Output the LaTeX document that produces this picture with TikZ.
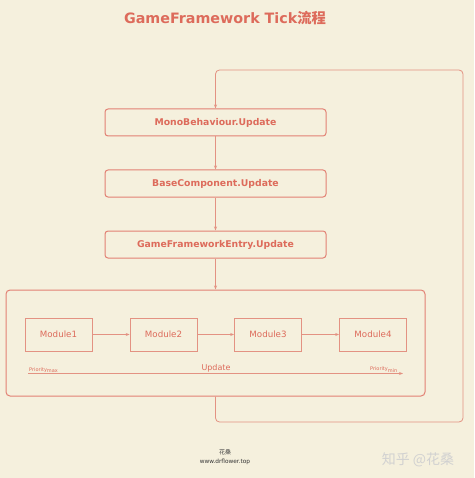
\documentclass[tikz,border=0pt]{standalone}
\usepackage{fontspec}
\setmainfont{DejaVu Sans}
\newfontfamily\cjk{Noto Sans CJK SC}
\usetikzlibrary{positioning, arrows.meta}
\definecolor{paper}{HTML}{F5F0DD}
\definecolor{salmon}{HTML}{DD6B5B}
\definecolor{edgeline}{HTML}{E39282}
\tikzset{
line/.style={draw=edgeline, line width=0.8pt}, % connector lines
flow/.style={line, -{Stealth[length=4pt,width=3pt]}}, % directed connectors
updatebox/.style={draw=salmon!85, line width=1pt, rounded corners=3pt, minimum width=221pt, minimum height=27pt, text=salmon, font=\bfseries\fontsize{9.3}{11}\selectfont},
modulebox/.style={draw=edgeline, line width=0.7pt, minimum width=67pt, minimum height=33pt, text=salmon, font=\fontsize{8.7}{10}\selectfont},
}

\begin{document}
\begin{tikzpicture}[x=1pt, y=-1pt]
\fill[paper] (0,0) rectangle (474,478);
\useasboundingbox (0,0) rectangle (474,478);

\node[text=salmon, font=\bfseries\fontsize{14.3}{16}\selectfont] at (225,18) (title) {GameFramework Tick{\cjk 流程}};

\node[updatebox] at (215.5,122.5) (mono) {MonoBehaviour.Update};
\node[updatebox] at (215.5,183.5) (base) {BaseComponent.Update};
\node[updatebox] at (215.5,244.5) (entry) {GameFrameworkEntry.Update};

\node[draw=salmon!85, line width=1pt, rounded corners=4pt, minimum width=419pt, minimum height=106pt] at (215.5,343) (frame) {};

\node[modulebox] at (58.5,334.5) (m1) {Module1};
\node[modulebox] at (163.5,334.5) (m2) {Module2};
\node[modulebox] at (268,334.5) (m3) {Module3};
\node[modulebox] at (373,334.5) (m4) {Module4};

\draw[flow] (mono) -- (base);
\draw[flow] (base) -- (entry);
\draw[flow] (entry) -- (frame);
\draw[flow] (m1) -- (m2);
\draw[flow] (m2) -- (m3);
\draw[flow] (m3) -- (m4);

% priority axis
\coordinate (pstart) at (28,373.5);
\coordinate (pend) at (403,373.5);
\draw[flow] (pstart) -- (pend);
\node[anchor=south west, inner sep=1pt, text=salmon, font=\fontsize{5}{6}\selectfont] at (pstart) (pmax) {Priority\textsubscript{max}};
\node[anchor=south east, inner sep=1pt, text=salmon, font=\fontsize{5}{6}\selectfont] at ([xshift=-4pt]pend) (pmin) {Priority\textsubscript{min}};
\node[text=salmon, font=\fontsize{8}{9}\selectfont] at (216,368) (upd) {Update};

% loop back to the top
\coordinate (br) at (463,422);
\coordinate (tr) at (463,70);
\draw[flow, rounded corners=4pt] (frame.south) |- (br) -- (tr) -| (mono.north);

\node[text=black!75, font=\cjk\fontsize{6}{7}\selectfont] at (225,452) (author) {花桑};
\node[text=black!80, font=\fontsize{5.8}{7}\selectfont, below=0pt of author, inner sep=1pt] (site) {www.drflower.top};
\node[text=black!18, font=\cjk\fontsize{14}{15}\selectfont] at (418,460) (mark) {知乎 @花桑};
\end{tikzpicture}
\end{document}
